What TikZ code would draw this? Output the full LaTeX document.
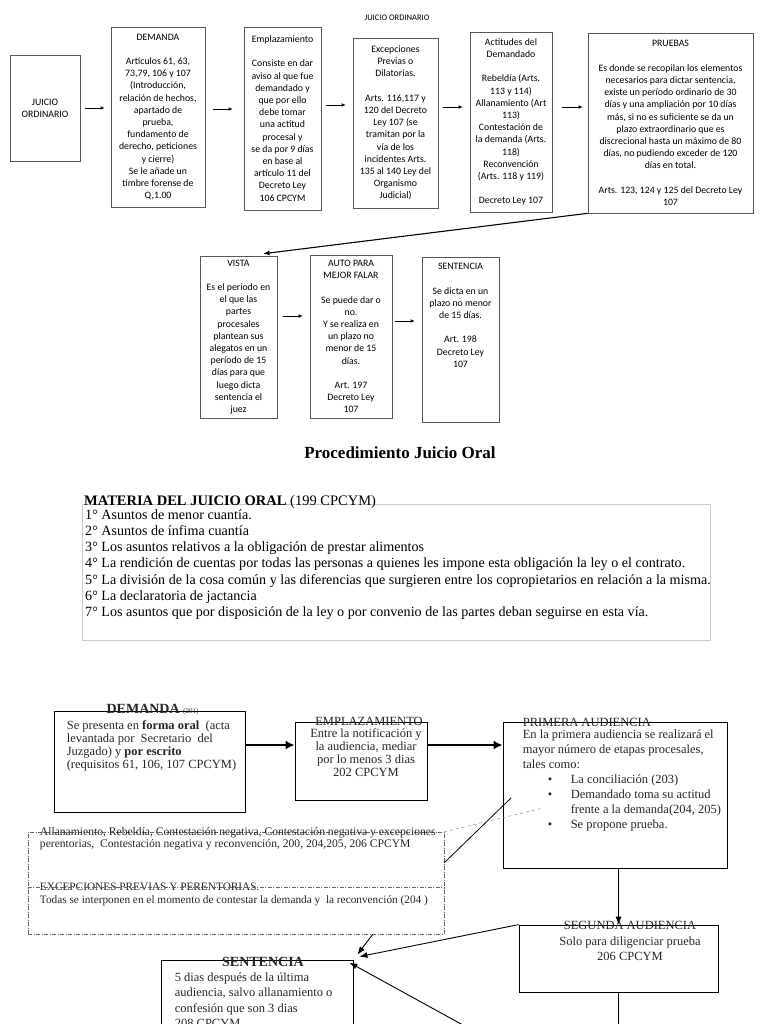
\documentclass[tikz,border=0pt]{standalone}
\usepackage{fontspec}
\setmainfont{Liberation Serif}
\newfontfamily\calib{Carlito}
\usetikzlibrary{arrows.meta,positioning}

\begin{document}
\begin{tikzpicture}[x=1pt,y=-1pt,
  box/.style={draw=black!65,line width=0.6pt,align=center,inner sep=2pt,font=\calib\fontsize{9.8}{12.2}\selectfont},
  arr/.style={-{Latex[length=4pt,width=3.5pt]},line width=0.7pt},
  obox/.style={draw,line width=0.8pt,inner sep=0pt},
  ohead/.style={anchor=base,inner sep=0pt,text=black!85,font=\fontsize{12.5}{15}\selectfont},
  otxt/.style={inner sep=0pt,text=black!85,font=\fontsize{12.5}{13}\selectfont},
  fat/.style={-{Latex[length=9pt,width=9pt]},line width=2pt},
  sarr/.style={-{Latex[length=8pt,width=6pt]},line width=0.9pt},
  exdash/.style={draw=black!60,line width=0.5pt,dash pattern=on 4pt off 1.5pt on 1pt off 1.5pt}
]
\useasboundingbox (0,0) rectangle (768,1024);
\clip (0,0) rectangle (768,1024);

% juicio ordinario
\node[font=\calib\fontsize{8.5}{10}\selectfont] (jotitle) at (397,18) {JUICIO ORDINARIO};
\node[box,minimum width=70pt,minimum height=106pt] (jo) at (45,108) {JUICIO\\ORDINARIO};
\node[box,minimum width=94pt,minimum height=180pt] (dem) at (158,117) {DEMANDA\\[12.2pt]Artículos 61, 63,\\73,79, 106 y 107\\(Introducción,\\relación de hechos,\\apartado de\\prueba,\\fundamento de\\derecho, peticiones\\y cierre)\\Se le añade un\\timbre forense de\\Q,1.00};
\node[box,minimum width=77pt,minimum height=183pt] (empl) at (282.5,118.5) {Emplazamiento\\[12.2pt]Consiste en dar\\aviso al que fue\\demandado y\\que por ello\\debe tomar\\una actitud\\procesal y\\se da por 9 días\\en base al\\artículo 11 del\\Decreto Ley\\106 CPCYM};
\node[box,minimum width=85pt,minimum height=170pt] (exc) at (395.5,123) {Excepciones\\Previas o\\Dilatorias.\\[12.2pt]Arts. 116,117 y\\120 del Decreto\\Ley 107 (se\\tramitan por la\\vía de los\\incidentes Arts.\\135 al 140 Ley del\\Organismo\\Judicial)};
\node[box,minimum width=82pt,minimum height=180pt] (act) at (511,122) {Actitudes del\\Demandado\\[12.2pt]Rebeldía (Arts.\\113 y 114)\\Allanamiento (Art\\113)\\Contestación de\\la demanda (Arts.\\118)\\Reconvención\\(Arts. 118 y 119)\\[12.2pt]Decreto Ley 107};
\node[box,minimum width=165pt,minimum height=180pt] (prue) at (670.5,123) {PRUEBAS\\[12.2pt]Es donde se recopilan los elementos\\necesarios para dictar sentencia,\\existe un período ordinario de 30\\días y una ampliación por 10 días\\más, si no es suficiente se da un\\plazo extraordinario que es\\discrecional hasta un máximo de 80\\días, no pudiendo exceder de 120\\días en total.\\[12.2pt]Arts. 123, 124 y 125 del Decreto Ley\\107};
\node[box,minimum width=77pt,minimum height=162pt] (vista) at (238.5,337) {VISTA\\[12.2pt]Es el periodo en\\el que las\\partes\\procesales\\plantean sus\\alegatos en un\\período de 15\\días para que\\luego dicta\\sentencia el\\juez};
\node[box,minimum width=82pt,minimum height=163pt] (auto) at (351,336.5) {AUTO PARA\\MEJOR FALAR\\[12.2pt]Se puede dar o\\no.\\Y se realiza en\\un plazo no\\menor de 15\\días.\\[12.2pt]Art. 197\\Decreto Ley\\107};
\node[box,minimum width=77pt,minimum height=165pt] (sent) at (460.5,339.5) {SENTENCIA\\[12.2pt]Se dicta en un\\plazo no menor\\de 15 días.\\[12.2pt]Art. 198\\Decreto Ley\\107\\[36pt]\mbox{}};

\draw[arr,shorten <=5pt,shorten >=6pt] (jo.east) -- (jo.east -| dem.west);
\draw[arr,shorten <=8pt,shorten >=11pt] ([yshift=8pt]dem.east) -- ([yshift=9.5pt]empl.west);
\draw[arr,shorten <=5pt,shorten >=7pt] ([yshift=13.5pt]empl.east) -- ([yshift=18pt]exc.west);
\draw[arr,shorten <=5pt,shorten >=7pt] ([yshift=16pt]exc.east) -- ([yshift=15pt]act.west);
\draw[arr,shorten <=10pt,shorten >=5pt] ([yshift=15pt]act.east) -- ([yshift=16pt]prue.west);
\draw[-{Latex[length=6pt,width=5pt]},line width=1.1pt] (prue.south west) -- ([xshift=25pt,yshift=2pt]vista.north);
\draw[arr,shorten <=6pt,shorten >=7pt] ([yshift=21pt]vista.east) -- ([yshift=20.5pt]auto.west);
\draw[arr,shorten <=3pt,shorten >=7pt] ([yshift=15.5pt]auto.east) -- ([yshift=18.5pt]sent.west);

% juicio oral
\node[font=\bfseries\fontsize{17}{20}\selectfont] (ptitle) at (400,453) {Procedimiento Juicio Oral};
\node[draw=black!20,line width=0.5pt,minimum width=628pt,minimum height=136pt] (matb) at (396,572) {};
\node[anchor=base west,inner sep=0pt,font=\fontsize{14.5}{16}\selectfont] (math) at (84,505) {\textbf{MATERIA DEL JUICIO ORAL} (199 CPCYM)};
\node[anchor=north west,inner sep=0pt,align=left,font=\fontsize{14.1}{16.3}\selectfont] (matt) at (85,509) {1° Asuntos de menor cuantía.\\2° Asuntos de ínfima cuantía\\3° Los asuntos relativos a la obligación de prestar alimentos\\4° La rendición de cuentas por todas las personas a quienes les impone esta obligación la ley o el contrato.\\5° La división de la cosa común y las diferencias que surgieren entre los copropietarios en relación a la misma.\\6° La declaratoria de jactancia\\7° Los asuntos que por disposición de la ley o por convenio de las partes deban seguirse en esta vía.};

\node[obox,minimum width=191pt,minimum height=101pt] (demb) at (149.5,761.5) {};
\node[ohead,font=\bfseries\fontsize{14}{16}\selectfont] (demh) at ([xshift=3pt,yshift=-3pt]demb.north) {DEMANDA {\mdseries\fontsize{7}{8}\selectfont (201)}};
\node[otxt,anchor=north west,align=left] (demt) at ([xshift=13pt,yshift=-10pt]demb.north west) {Se presenta en \textbf{forma oral}\ \ (acta\\levantada por\ \ Secretario\ \ del\\Juzgado) y \textbf{por escrito}\\(requisitos 61, 106, 107 CPCYM)};

\node[obox,minimum width=132pt,minimum height=78pt] (empb) at (361,761) {};
\node[ohead] (emph) at ([xshift=8pt,yshift=-4pt]empb.north) {EMPLAZAMIENTO};
\node[otxt,anchor=north,align=center] (empt) at ([xshift=5pt,yshift=-7pt]empb.north) {Entre la notificación y\\la audiencia, mediar\\por lo menos 3 dias\\202 CPCYM};

\node[obox,minimum width=224pt,minimum height=146pt] (primb) at (615,795) {};
\node[ohead,anchor=base west] (primh) at ([xshift=20pt,yshift=-4.5pt]primb.north west) {PRIMERA AUDIENCIA};
\node[otxt,anchor=north west,align=left,font=\fontsize{12.5}{15}\selectfont] (primt) at ([xshift=20pt,yshift=-8pt]primb.north west) {En la primera audiencia se realizará el\\mayor número de etapas procesales,\\tales como:\\\hspace*{25pt}\makebox[23pt][l]{\textbullet}La conciliación (203)\\\hspace*{25pt}\makebox[23pt][l]{\textbullet}Demandado toma su actitud\\\hspace*{48pt}frente a la demanda(204, 205)\\\hspace*{25pt}\makebox[23pt][l]{\textbullet}Se propone prueba.};

\node[obox,minimum width=199pt,minimum height=67pt] (segb) at (618.5,958.5) {};
\node[ohead] (segh) at ([xshift=11.5pt,yshift=-5pt]segb.north) {SEGUNDA AUDIENCIA};
\node[otxt,anchor=north,align=center,font=\fontsize{12.5}{15}\selectfont] (segt) at ([xshift=11.5pt,yshift=-12pt]segb.north) {Solo para diligenciar prueba\\206 CPCYM};

\node[obox,minimum width=192pt,minimum height=100pt] (sentb) at (257,1010) {};
\node[ohead,font=\bfseries\fontsize{14}{16}\selectfont] (senth) at ([xshift=6pt,yshift=-7pt]sentb.north) {SENTENCIA};
\node[otxt,anchor=north west,align=left,font=\fontsize{12.5}{15.3}\selectfont] (sentt) at ([xshift=14pt,yshift=-13pt]sentb.north west) {5 dias después de la última\\audiencia, salvo allanamiento o\\confesión que son 3 dias\\208 CPCYM};

\node[exdash,minimum width=416pt,minimum height=102pt] (exb) at (236,883) {};
\node[otxt,anchor=north west,align=left,font=\fontsize{11.6}{12.5}\selectfont] (ext1) at ([xshift=12pt,yshift=5pt]exb.north west) {Allanamiento, Rebeldía, Contestación negativa, Contestación negativa y excepciones\\perentorias,\ \ Contestación negativa y reconvención, 200, 204,205, 206 CPCYM};
\node[otxt,anchor=north west,align=left,font=\fontsize{11.3}{13}\selectfont] (ext2) at ([xshift=12pt,yshift=-51pt]exb.north west) {EXCEPCIONES PREVIAS Y PERENTORIAS.\\Todas se interponen en el momento de contestar la demanda y\ \ la reconvención (204 )};
\draw[exdash] ([yshift=-55pt]exb.north west) -- ([yshift=-55pt]exb.north east);

\coordinate (calla) at (511,798);
\coordinate (callb) at (543,808);
\coordinate (segout) at (618.5,1030);
\coordinate (lowin) at (472,1030);

\draw[fat] ([yshift=16.5pt]demb.east) -- ([yshift=16pt]empb.west);
\draw[fat] ([yshift=16pt]empb.east) -- ([yshift=50pt]primb.west);
\draw[sarr] (primb.south -| segb.north) -- (segb.north);
\draw[line width=0.8pt] (segb.south) -- (segout);
\draw[line width=0.8pt] ([yshift=-31pt]exb.north east) -- (calla);
\draw[draw=black!45,dashed,line width=0.5pt] (exb.north east) -- (callb);
\draw[sarr] ([xshift=345pt]exb.south west) -- ([xshift=4pt,yshift=5pt]sentb.north east);
\draw[sarr] (segb.north west) -- ([xshift=6pt,yshift=3pt]sentb.north east);
\draw[sarr] (lowin) -- ([xshift=-4pt,yshift=-3pt]sentb.north east);
\end{tikzpicture}
\end{document}
